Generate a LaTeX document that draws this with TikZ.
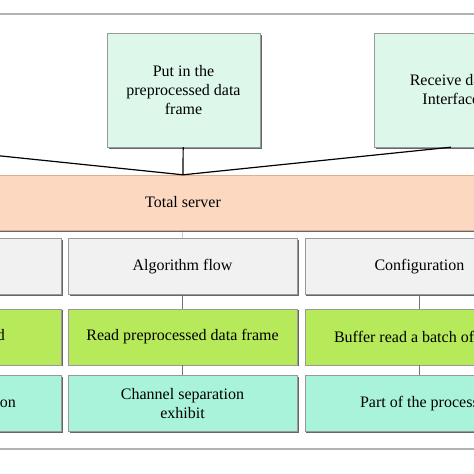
\documentclass[tikz,border=0pt]{standalone}
\usepackage{fontspec}
\setmainfont{Liberation Serif}
\usepackage{xcolor}
\usepackage{tikz}
\usetikzlibrary{positioning, shadows}

\definecolor{mint}{HTML}{DDF7EB}
\definecolor{peach}{HTML}{FCD8C1}
\definecolor{lightgrey}{HTML}{F1F1F1}
\definecolor{lime}{HTML}{B6EA5A}
\definecolor{aqua}{HTML}{A8F3D9}

\begin{document}
\begin{tikzpicture}[x=1pt, y=-1pt, font=\fontsize{16}{19}\selectfont]

	\tikzstyle{box} = [draw=black!40, align=center, inner sep=2pt,
	drop shadow={shadow xshift=1.5pt, shadow yshift=-1.5pt, fill=black!75, opacity=0.8}]
	\tikzstyle{cell} = [box, minimum width=229pt, minimum height=56pt]
	\tikzstyle{wire} = [line width=1.2pt, black]
	\tikzstyle{link} = [thin, black!55]
	\useasboundingbox (0,0) rectangle (474,474);
	\clip (0,0) rectangle (474,474);
	% outer frame
	\draw[black!30, line width=1.5pt] (-20,14) rectangle (494,449);
	% inputs on top
	\node[box, fill=mint, minimum width=153pt, minimum height=114pt] (put) at (183.5,90) {Put in the\\preprocessed data\\frame};
	\node[box, fill=mint, minimum width=153pt, minimum height=114pt, right=114pt of put] (recv) {Receive data\\Interface};
	\node[box, fill=mint, minimum width=153pt, minimum height=114pt, left=114pt of put] (src) {};
	\node[box, fill=peach, draw=brown!60, minimum width=760pt, minimum height=55pt] (total) at (183,202.5) {Total server};
	% three columns
	\node[cell, fill=lightgrey] (alg) at (182.5,266.5) {Algorithm flow};
	\node[cell, fill=lightgrey, right=7.5pt of alg] (conf) {Configuration};
	\node[cell, fill=lightgrey, left=6pt of alg] (data) {};
	\node[cell, fill=lime, below=14pt of alg] (rdf) {Read preprocessed data frame};
	\node[cell, fill=lime, below=14pt of conf] (buf) {Buffer read a batch of data};
	\node[cell, fill=lime, below=14pt of data] (orig) {Original data read};
	\node[cell, fill=aqua, below=10pt of rdf] (chan) {Channel separation\\exhibit};
	\node[cell, fill=aqua, below=10pt of buf] (part) {Part of the process};
	\node[cell, fill=aqua, below=10pt of orig] (acq) {Real-time acquisition};

\draw[wire] (put) -- (total.north);
\draw[wire] (src.south) -- (total.north) -- (recv.south);
\draw[link] (total) -- (alg);
\draw[link] (alg) -- (rdf);
\draw[link] (rdf) -- (chan);
\draw[link] (conf) -- (buf);
\draw[link] (buf) -- (part);

\end{tikzpicture}
\end{document}
